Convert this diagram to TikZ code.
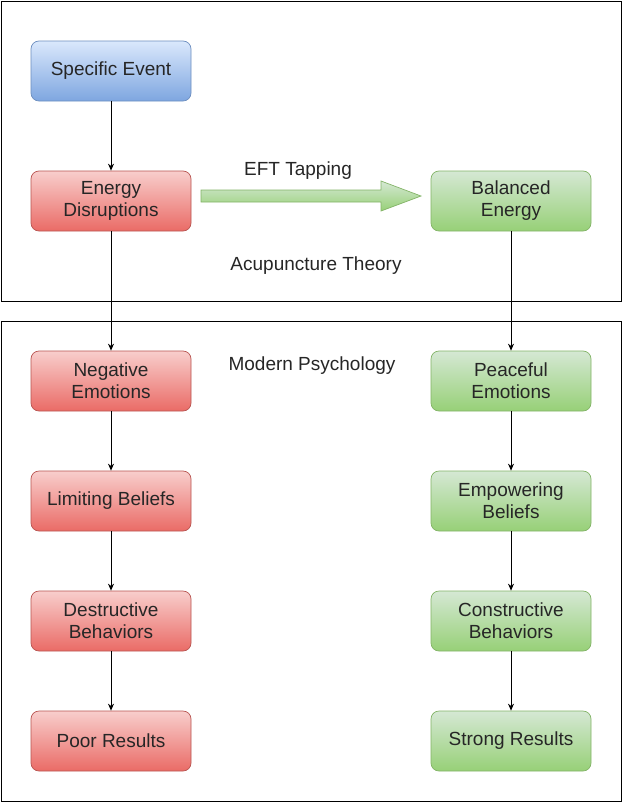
\documentclass[tikz,border=0pt]{standalone}
\usepackage{fontspec}
\setmainfont{Liberation Sans}
\usetikzlibrary{arrows.meta}
\definecolor{bT}{HTML}{DAE8FC}\definecolor{bB}{HTML}{7EA6E0}\definecolor{bS}{HTML}{6C8EBF}
\definecolor{rT}{HTML}{F8CECC}\definecolor{rB}{HTML}{EA6B66}\definecolor{rS}{HTML}{B85450}
\definecolor{gT}{HTML}{D5E8D4}\definecolor{gB}{HTML}{97D077}\definecolor{gS}{HTML}{82B366}
\tikzset{
 box/.style={minimum width=160pt,minimum height=60pt,rounded corners=8pt,align=center,font=\fontsize{19}{22}\selectfont,text=black!85,inner sep=0pt,line width=0.7pt},
 bbox/.style={box,draw=bS,top color=bT,bottom color=bB},
 rbox/.style={box,draw=rS,top color=rT,bottom color=rB},
 gbox/.style={box,draw=gS,top color=gT,bottom color=gB},
 arr/.style={-{Stealth[length=7pt,width=6pt]},line width=0.8pt},
 lbl/.style={font=\fontsize{19}{22}\selectfont,text=black!85}
}
\begin{document}
\begin{tikzpicture}[x=1pt,y=-1pt]
\useasboundingbox (0,0) rectangle (623,803);
\draw[line width=0.8pt] (1,1) rectangle (621,301);
\draw[line width=0.8pt] (1,321) rectangle (621,801);
\node[bbox] (se) at (111,71) {Specific Event};
\node[rbox] (ed) at (111,201) {Energy\\Disruptions};
\node[gbox] (be) at (511,201) {Balanced\\Energy};
\node[rbox] (ne) at (111,381) {Negative\\Emotions};
\node[rbox] (lb) at (111,501) {Limiting Beliefs};
\node[rbox] (db) at (111,621) {Destructive\\Behaviors};
\node[rbox] (pr) at (111,741) {Poor Results};
\node[gbox] (pe) at (511,381) {Peaceful\\Emotions};
\node[gbox] (eb) at (511,501) {Empowering\\Beliefs};
\node[gbox] (cb) at (511,621) {Constructive\\Behaviors};
\node[gbox] (sr) at (511,741) {Strong Results};
\draw[arr] (se) -- (ed);
\draw[arr] (ed) -- (ne);
\draw[arr] (ne) -- (lb);
\draw[arr] (lb) -- (db);
\draw[arr] (db) -- (pr);
\draw[arr] (be) -- (pe);
\draw[arr] (pe) -- (eb);
\draw[arr] (eb) -- (cb);
\draw[arr] (cb) -- (sr);
\draw[draw=gS,top color=gT,bottom color=gB,line width=0.7pt]
 (201,190) -- (381,190) -- (381,181) -- (421,196) -- (381,211) -- (381,202) -- (201,202) -- cycle;
\coordinate (ft) at (298,171);
\node[lbl] (eft) at (ft) {EFT Tapping};
\node[lbl] (at) at (316,266) {Acupuncture Theory};
\node[lbl] (mp) at (312,366) {Modern Psychology};
\end{tikzpicture}
\end{document}
